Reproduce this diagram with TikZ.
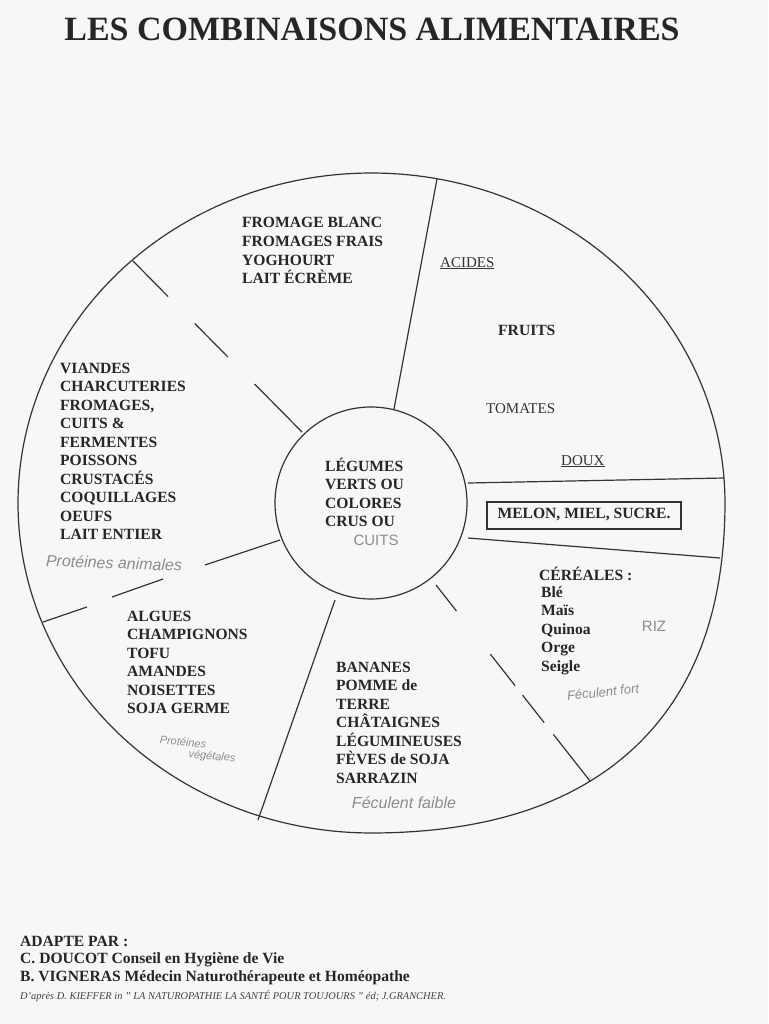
\documentclass[tikz,border=0pt]{standalone}
\usepackage{fontspec}
\setmainfont{Liberation Serif}
\newfontfamily\handfont{Liberation Sans}
\newcommand\foodlines[4]{%
  \foreach \t [count=\i from 0] in {#4} {\node[lab] (#1\i) at (#2,{#3+18.5*\i}) {\t};}}
\begin{document}
\begin{tikzpicture}[x=1pt,y=-1pt,
  rim/.style={draw=black!80, line width=1.2pt},
  lab/.style={font=\fontsize{15.6}{18}\selectfont\bfseries, anchor=base west, inner sep=0pt, text=black!85},
  soft/.style={font=\fontsize{15}{18}\selectfont, anchor=base west, inner sep=0pt, text=black!80},
  foot/.style={font=\fontsize{15.6}{18}\selectfont\bfseries, anchor=base west, inner sep=0pt, text=black!85},
  hand/.style={font=\handfont\itshape\fontsize{16}{18}\selectfont, text=black!45, inner sep=0pt},
]
\fill[black!3] (0,0) rectangle (768,1024);
\useasboundingbox (0,0) rectangle (768,1024);

\node[font=\fontsize{34}{40}\selectfont\bfseries, anchor=base, inner sep=0pt, text=black!85] (title) at (372,41) {LES COMBINAISONS ALIMENTAIRES};

% wheel (scanned outline, slightly bulged at lower right)
\draw[rim] plot[smooth cycle, domain=0:357.5, samples=144, variable=\a]
  ({371.5+353.5*cos(\a)*(1+0.05*(\a<=90)*sin(2*\a)^2)},
   {503+330*sin(\a)*(1+0.05*(\a<=90)*sin(2*\a)^2)});
\node[circle, draw=black!80, line width=1.2pt, minimum size=192pt, inner sep=0pt] (core) at (371,503) {};

\coordinate (t1) at (437,179);
\coordinate (r1) at (724,478);
\coordinate (r2) at (720,558);
\coordinate (b1) at (258,820);
\coordinate (b2) at (590,781);
\draw[rim] (t1) -- (394,409);
\draw[rim] (r1) -- (468,483);
\draw[rim] (r2) -- (468,538);
\draw[rim] (b1) -- (335,600);
\draw[rim] (280,540) -- (205,565);
\draw[rim] (163,579) -- (112,597);
\draw[rim] (87,607) -- (43,622);
\draw[rim, dash pattern=on 50pt off 38pt on 47pt off 38pt on 70pt] (133,261) -- (302,432);
\draw[rim, dash pattern=on 33pt off 55pt on 40pt off 12pt on 35pt off 15pt on 60pt] (436,585) -- (b2);

% texts
\foodlines{fb}{242}{228}{FROMAGE BLANC, FROMAGES FRAIS, YOGHOURT, LAIT ÉCRÈME}
\foodlines{vi}{60}{373}{VIANDES, CHARCUTERIES, {FROMAGES,}, CUITS \&, FERMENTES, POISSONS, CRUSTACÉS, COQUILLAGES, OEUFS, LAIT ENTIER}
\foodlines{al}{127}{621}{ALGUES, CHAMPIGNONS, TOFU, AMANDES, NOISETTES, SOJA GERME}
\foodlines{ba}{336}{672}{BANANES, POMME de, TERRE, CHÂTAIGNES, LÉGUMINEUSES, FÈVES de SOJA, SARRAZIN}
\foodlines{lg}{325}{471}{LÉGUMES, VERTS OU, COLORES, CRUS OU}
\node[lab] (cer) at (539,580) {CÉRÉALES :};
\foodlines{ce}{541}{597}{Blé, Maïs, Quinoa, Orge, Seigle}
\node[lab] (fruits) at (498,335) {FRUITS};
\node[soft] (acides) at (440,267) {\underline{ACIDES}};
\node[soft] (tomates) at (486,413) {TOMATES};
\node[soft] (doux) at (561,465) {\underline{DOUX}};
\node[draw=black!80, line width=2pt, minimum width=194pt, minimum height=27pt, inner sep=0pt,
      font=\fontsize{15.6}{18}\selectfont\bfseries, text=black!85] (melon) at (584,515) {MELON, MIEL, SUCRE.};

% handwriting
\node[hand, font=\handfont\fontsize{15}{18}\selectfont] (cuits) at (376,540) {CUITS};
\node[hand, rotate=-2] (pa) at (114,563) {Protéines animales};
\node[hand, font=\handfont\itshape\fontsize{11}{13}\selectfont, rotate=-5] (pv1) at (183,742) {Protéines};
\node[hand, font=\handfont\itshape\fontsize{11}{13}\selectfont, rotate=-5] (pv2) at (212,757) {végétales};
\node[hand] (ff) at (404,803) {Féculent faible};
\node[hand, font=\handfont\fontsize{15}{18}\selectfont] (riz) at (654,626) {RIZ};
\node[hand, font=\handfont\itshape\fontsize{13}{15}\selectfont, rotate=6] (ffort) at (603,692) {Féculent fort};

% footer
\node[foot] (f1) at (20,946) {ADAPTE PAR :};
\node[foot] (f2) at (20,963.5) {C. DOUCOT Conseil en Hygiène de Vie};
\node[foot] (f3) at (20,981) {B. VIGNERAS Médecin Naturothérapeute et Homéopathe};
\node[anchor=base west, inner sep=0pt, font=\fontsize{10.4}{12}\selectfont\itshape, text=black!75] (f4) at (20,999) {D'après D. KIEFFER in " LA NATUROPATHIE LA SANTÉ POUR TOUJOURS " éd; J.GRANCHER.};
\end{tikzpicture}
\end{document}
